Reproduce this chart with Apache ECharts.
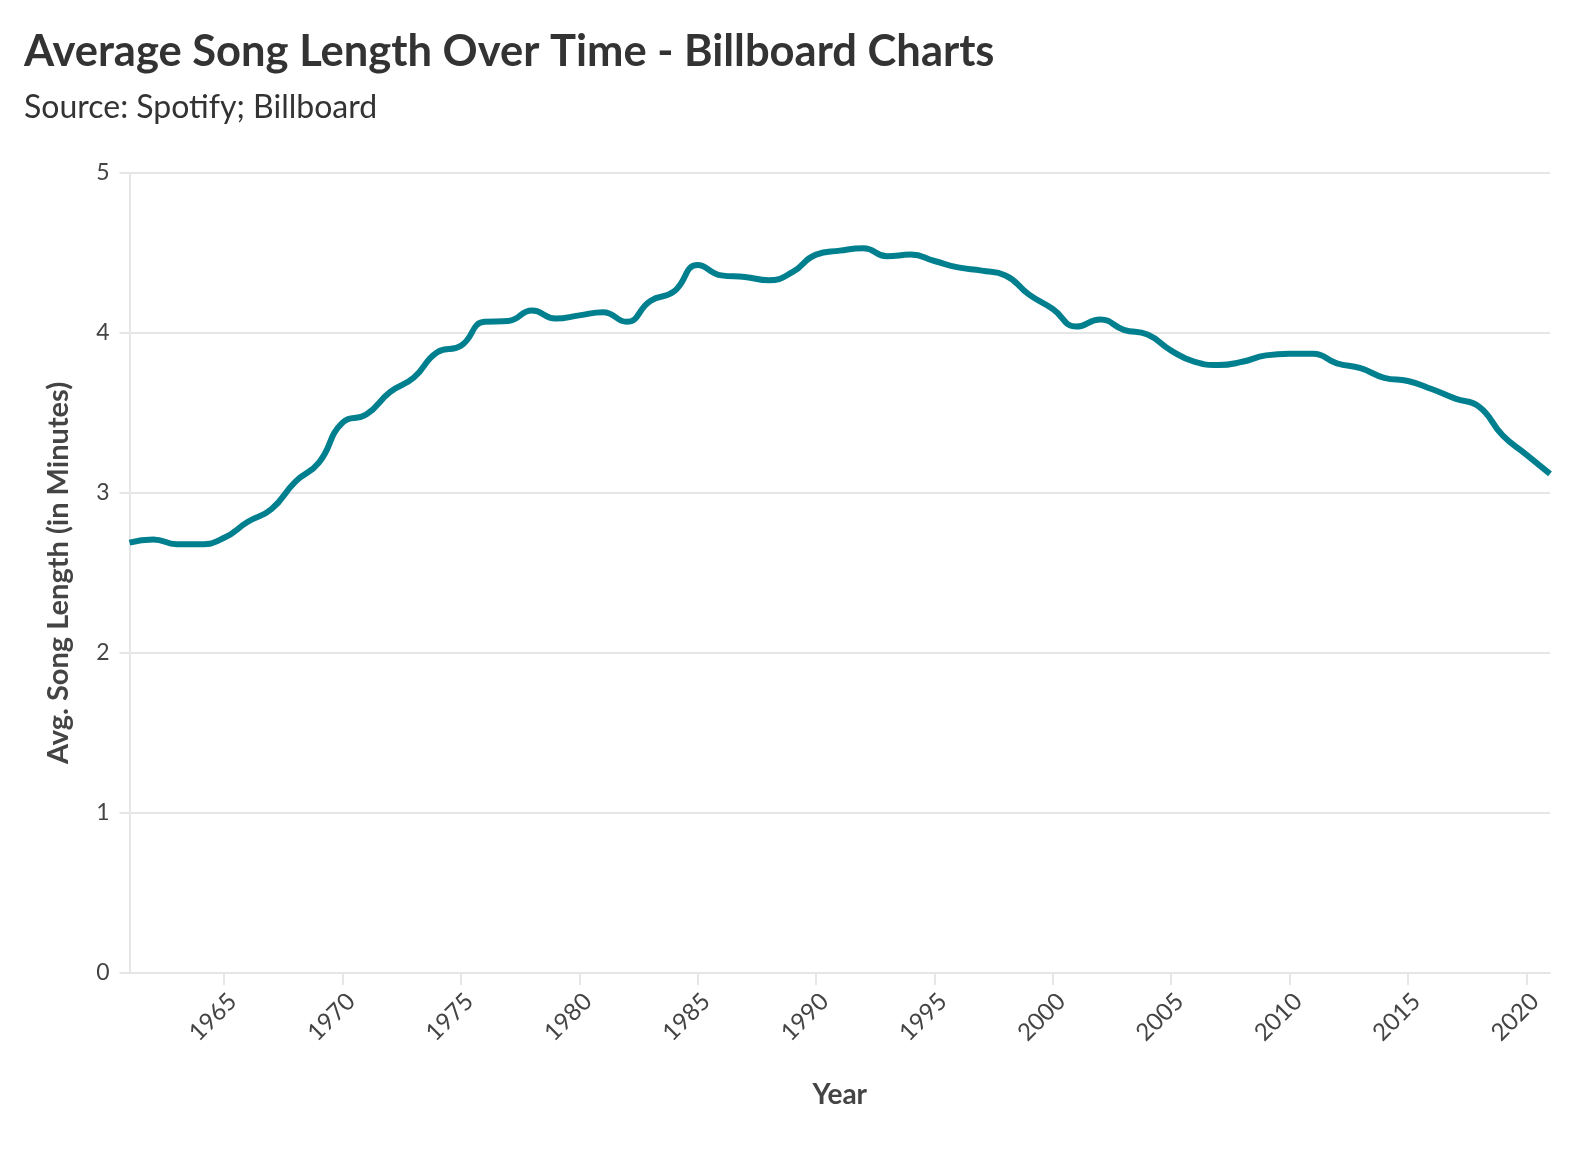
<!DOCTYPE html>
<html>
<head>
<meta charset="utf-8">
<script src="https://cdn.jsdelivr.net/npm/echarts@6/dist/echarts.min.js"></script>
<style>
html,body{margin:0;padding:0;background:#fff;}
#chart{width:1592px;height:1150px;}
</style>
</head>
<body>
<div id="chart"></div>
<script>
const years = [1961,1962,1963,1964,1965,1966,1967,1968,1969,1970,
  1971,1972,1973,1974,1975,1976,1977,1978,1979,1980,
  1981,1982,1983,1984,1985,1986,1987,1988,1989,1990,
  1991,1992,1993,1994,1995,1996,1997,1998,1999,2000,
  2001,2002,2003,2004,2005,2006,2007,2008,2009,2010,
  2011,2012,2013,2014,2015,2016,2017,2018,2019,2020,2021];
const avgLength = [2.69,2.71,2.68,2.68,2.72,2.82,2.90,3.07,3.19,3.44,
  3.49,3.63,3.72,3.88,3.92,4.07,4.075,4.14,4.09,4.11,
  4.13,4.07,4.20,4.26,4.425,4.36,4.35,4.33,4.38,4.49,
  4.515,4.53,4.48,4.49,4.45,4.41,4.39,4.36,4.24,4.15,
  4.04,4.085,4.02,3.99,3.89,3.82,3.80,3.82,3.86,3.87,
  3.87,3.81,3.78,3.72,3.70,3.65,3.59,3.54,3.36,3.24,3.12];
const yTicks = [0,1,2,3,4,5];

const chart = echarts.init(document.getElementById('chart'));
const txt = '#444';
const font = 'Lato, "Noto Sans", sans-serif';
chart.setOption({
  backgroundColor: '#fff',
  animation: false,
  title: {
    text: 'Average Song Length Over Time - Billboard Charts',
    subtext: 'Source: Spotify; Billboard',
    left: 19, top: 25,
    itemGap: 18,
    textStyle: {fontFamily: font, fontSize: 43.5, fontWeight: 'bold', color: '#333'},
    subtextStyle: {fontFamily: font, fontSize: 32, color: '#333'}
  },
  grid: {left: 129.5, right: 42, top: 173, bottom: 177, containLabel: false},
  xAxis: {
    type: 'category',
    data: years.map(String),
    boundaryGap: false,
    name: 'Year',
    nameLocation: 'middle',
    nameGap: 108,
    nameTextStyle: {fontFamily: font, fontSize: 28, fontWeight: 'bold', color: txt},
    axisLine: {show: true, lineStyle: {color: '#e6e6e6', width: 2}},
    axisTick: {show: true, length: 12, lineStyle: {color: '#e6e6e6', width: 2},
      interval: (i, v) => Number(v) % 5 === 0},
    axisLabel: {rotate: 45, fontFamily: font, fontSize: 24, color: txt, margin: 16,
      verticalAlign: 'top',
      interval: (i, v) => Number(v) % 5 === 0},
    splitLine: {show: false}
  },
  yAxis: {
    type: 'value',
    min: yTicks[0], max: yTicks[yTicks.length-1], interval: 1,
    name: 'Avg. Song Length (in Minutes)',
    nameLocation: 'middle',
    nameGap: 56,
    nameTextStyle: {fontFamily: font, fontSize: 29, fontWeight: 'bold', color: txt},
    axisLine: {show: true, lineStyle: {color: '#e6e6e6', width: 2}},
    axisTick: {show: true, length: 10, lineStyle: {color: '#e6e6e6', width: 2}},
    axisLabel: {fontFamily: font, fontSize: 23, color: txt, margin: 20},
    splitLine: {show: true, lineStyle: {color: '#e6e6e6', width: 2}}
  },
  series: [{
    type: 'line',
    data: avgLength,
    smooth: 0.5,
    showSymbol: false,
    symbol: 'none',
    lineStyle: {color: '#007f8e', width: 6},
    itemStyle: {color: '#007f8e'}
  }]
});
</script>
</body>
</html>
